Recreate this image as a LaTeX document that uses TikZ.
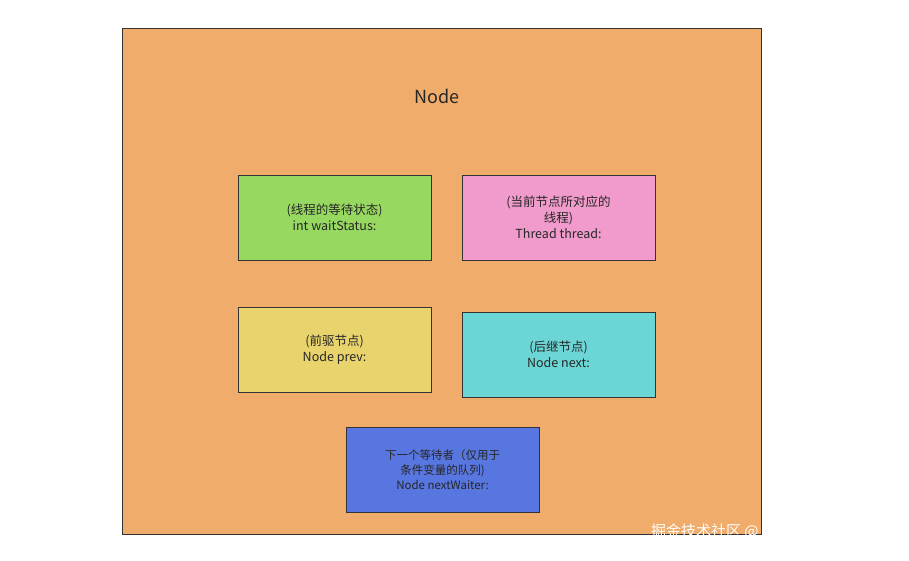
\documentclass[tikz,border=0pt]{standalone}
\usepackage{fontspec}
\setmainfont{Noto Sans CJK SC}
\definecolor{cOrange}{HTML}{F0AC6A}
\definecolor{cGreen}{HTML}{97D861}
\definecolor{cPink}{HTML}{F09BCB}
\definecolor{cYellow}{HTML}{E8D36C}
\definecolor{cCyan}{HTML}{6CD6D6}
\definecolor{cBlue}{HTML}{5876E0}
\tikzset{fbox/.style={draw=black!80,line width=0.8pt,minimum width=193pt,minimum height=85pt,align=center,font=\fontsize{12.5}{16}\selectfont,text=black!85,inner sep=2pt}}
\begin{document}
\begin{tikzpicture}[x=1pt,y=-1pt]
\useasboundingbox[fill=white] (0,0) rectangle (909,561);
\node[draw=black!80,line width=0.8pt,fill=cOrange,minimum width=639pt,minimum height=506pt,anchor=north west] (outer) at (122,28) {};
\node[font=\fontsize{18}{22}\selectfont,text=black!85] (title) at (437,96) {Node};
\node[fbox,fill=cGreen] (ws) at (334.5,217.5) {(线程的等待状态)\\int waitStatus:};
\node[fbox,fill=cPink] (th) at (558.5,217.5) {(当前节点所对应的\\线程)\\Thread thread:};
\node[fbox,fill=cYellow] (pv) at (334.5,349.5) {(前驱节点)\\Node prev:};
\node[fbox,fill=cCyan] (nx) at (558.5,354.5) {(后继节点)\\Node next:};
\node[fbox,fill=cBlue,font=\fontsize{11.5}{15}\selectfont] (nw) at (442.5,469.5) {下一个等待者（仅用于\\条件变量的队列)\\Node nextWaiter:};
\node[anchor=east,font=\fontsize{15}{18}\selectfont,text=white,inner sep=0pt] (wm) at (892,531) {掘金技术社区 @ 用户2160719532​95};
\end{tikzpicture}
\end{document}
